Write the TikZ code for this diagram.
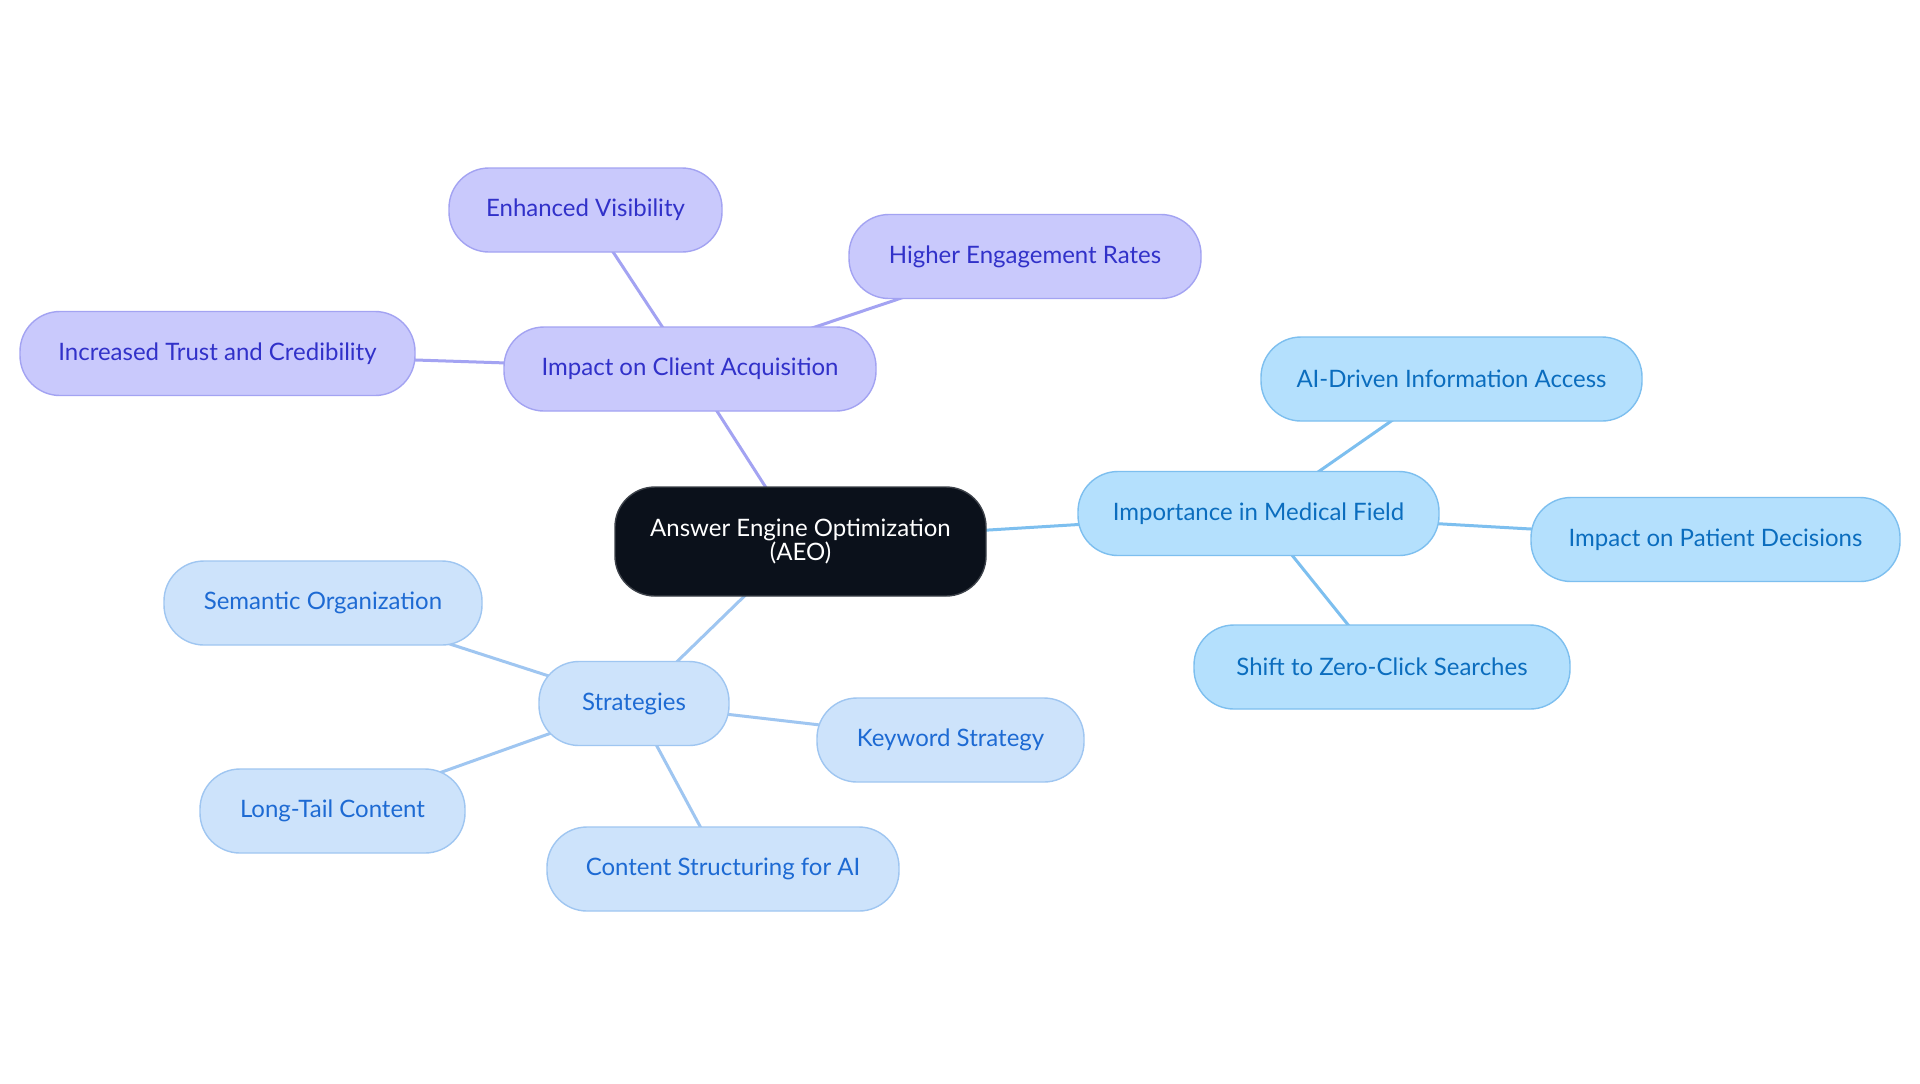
\documentclass[tikz,border=0pt]{standalone}
\usepackage{fontspec}
\setmainfont{Lato}
\usetikzlibrary{backgrounds}
\definecolor{pfill}{HTML}{C9C9FC}
\definecolor{pdraw}{HTML}{A3A3F2}
\definecolor{ptext}{HTML}{3131C9}
\definecolor{bfill}{HTML}{B4E0FD}
\definecolor{bdraw}{HTML}{7DBFEF}
\definecolor{btext}{HTML}{0B6DBE}
\definecolor{lfill}{HTML}{CDE3FB}
\definecolor{ldraw}{HTML}{9FC6F1}
\definecolor{ltext}{HTML}{1D6AD3}
\definecolor{cfill}{HTML}{0B111B}
\tikzset{
  box/.style={rectangle, rounded corners=20pt, line width=0.7pt, minimum height=42pt, inner sep=0pt, font=\fontsize{12pt}{12pt}\selectfont},
  pbox/.style={box, fill=pfill, draw=pdraw, text=ptext},
  bbox/.style={box, fill=bfill, draw=bdraw, text=btext},
  lbox/.style={box, fill=lfill, draw=ldraw, text=ltext},
  cbox/.style={box, fill=cfill, draw=cfill!80!white, text=white, align=center, minimum height=54.5pt},
  plink/.style={draw=pdraw, line width=1.5pt},
  blink/.style={draw=bdraw, line width=1.5pt},
  llink/.style={draw=ldraw, line width=1.5pt},
}
\begin{document}
\begin{tikzpicture}[x=0.5pt,y=-0.5pt]
\useasboundingbox (0,0) rectangle (1920,1083);
\node[cbox, minimum width=185.5pt] (c) at (800.5,541.5) {Answer Engine Optimization\\(AEO)};
\node[pbox, minimum width=186pt] (ica) at (690,369) {Impact on Client Acquisition};
\node[pbox, minimum width=136.5pt] (ev) at (585.5,210) {Enhanced Visibility};
\node[pbox, minimum width=176pt] (her) at (1025,256.5) {Higher Engagement Rates};
\node[pbox, minimum width=197.5pt] (itc) at (217.5,353.5) {Increased Trust and Credibility};
\node[bbox, minimum width=180.5pt] (imf) at (1258.5,513.5) {Importance in Medical Field};
\node[bbox, minimum width=190.5pt] (aia) at (1451.5,379) {AI-Driven Information Access};
\node[bbox, minimum width=184.5pt] (ipd) at (1715.5,539.5) {Impact on Patient Decisions};
\node[bbox, minimum width=188pt] (szc) at (1382,667) {Shift to Zero-Click Searches};
\node[lbox, minimum width=95pt] (str) at (634,703.5) {Strategies};
\node[lbox, minimum width=159pt] (so) at (323,603) {Semantic Organization};
\node[lbox, minimum width=133.5pt] (ks) at (950.5,740) {Keyword Strategy};
\node[lbox, minimum width=132.5pt] (ltc) at (332.5,811) {Long-Tail Content};
\node[lbox, minimum width=176pt] (csa) at (723,869) {Content Structuring for AI};
\begin{scope}[on background layer]
\fill[white] (0,0) rectangle (1920,1083);
\draw[plink] (c.center) -- (ica.center);
\draw[plink] (ica.center) -- (ev.center);
\draw[plink] (ica.center) -- (her.center);
\draw[plink] (ica.center) -- (itc.center);
\draw[blink] (c.center) -- (imf.center);
\draw[blink] (imf.center) -- (aia.center);
\draw[blink] (imf.center) -- (ipd.center);
\draw[blink] (imf.center) -- (szc.center);
\draw[llink] (c.center) -- (str.center);
\draw[llink] (str.center) -- (so.center);
\draw[llink] (str.center) -- (ks.center);
\draw[llink] (str.center) -- (ltc.center);
\draw[llink] (str.center) -- (csa.center);
\end{scope}
\end{tikzpicture}
\end{document}
